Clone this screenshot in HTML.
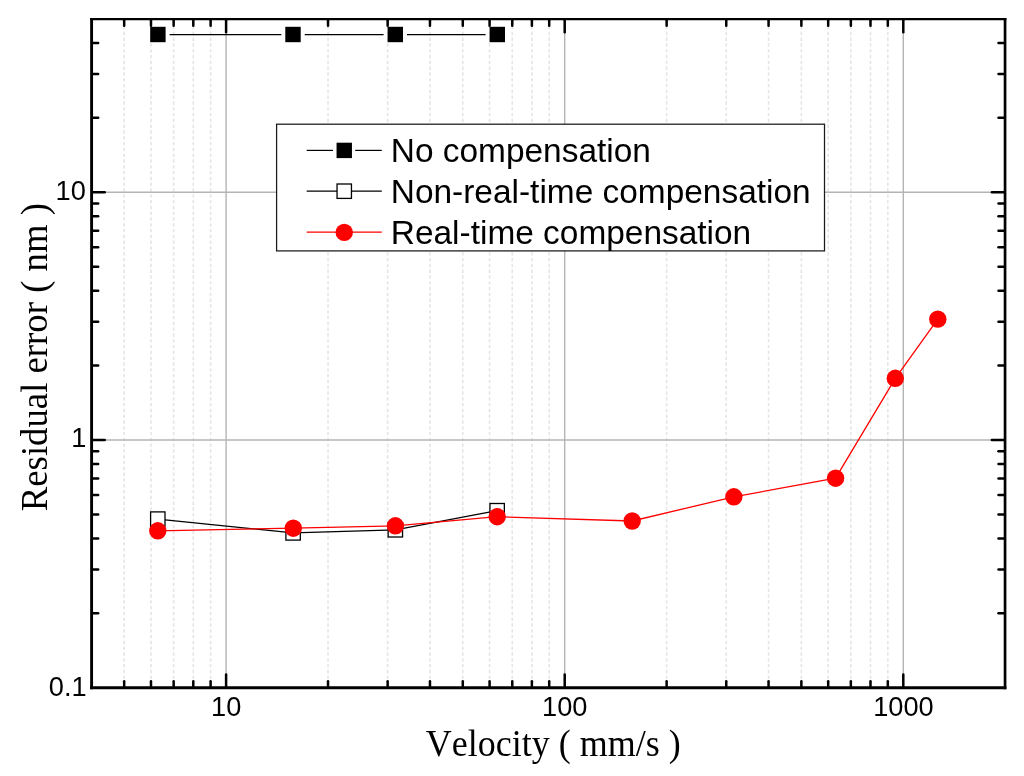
<!DOCTYPE html>
<html lang="en"><head><meta charset="utf-8"><title>Residual error vs velocity</title>
<style>html,body{margin:0;padding:0;background:#fff;}body{width:1024px;height:776px;overflow:hidden}svg{display:block}</style>
</head><body>
<svg width="1024" height="776" viewBox="0 0 1024 776">
<rect x="0" y="0" width="1024" height="776" fill="#fff"/>
<g stroke="#e5e5e5" stroke-width="1.6" stroke-dasharray="3.4 2.4" fill="none">
<line x1="124.17" y1="20.15" x2="124.17" y2="687.75"/>
<line x1="150.98" y1="20.15" x2="150.98" y2="687.75"/>
<line x1="173.65" y1="20.15" x2="173.65" y2="687.75"/>
<line x1="193.29" y1="20.15" x2="193.29" y2="687.75"/>
<line x1="210.61" y1="20.15" x2="210.61" y2="687.75"/>
<line x1="328.03" y1="20.15" x2="328.03" y2="687.75"/>
<line x1="387.65" y1="20.15" x2="387.65" y2="687.75"/>
<line x1="429.96" y1="20.15" x2="429.96" y2="687.75"/>
<line x1="462.77" y1="20.15" x2="462.77" y2="687.75"/>
<line x1="489.58" y1="20.15" x2="489.58" y2="687.75"/>
<line x1="512.25" y1="20.15" x2="512.25" y2="687.75"/>
<line x1="531.89" y1="20.15" x2="531.89" y2="687.75"/>
<line x1="549.21" y1="20.15" x2="549.21" y2="687.75"/>
<line x1="666.63" y1="20.15" x2="666.63" y2="687.75"/>
<line x1="726.25" y1="20.15" x2="726.25" y2="687.75"/>
<line x1="768.56" y1="20.15" x2="768.56" y2="687.75"/>
<line x1="801.37" y1="20.15" x2="801.37" y2="687.75"/>
<line x1="828.18" y1="20.15" x2="828.18" y2="687.75"/>
<line x1="850.85" y1="20.15" x2="850.85" y2="687.75"/>
<line x1="870.49" y1="20.15" x2="870.49" y2="687.75"/>
<line x1="887.81" y1="20.15" x2="887.81" y2="687.75"/>
</g>
<g stroke="#b4b4b4" stroke-width="1.4" fill="none">
<line x1="226.10" y1="19.15" x2="226.10" y2="687.75"/>
<line x1="564.70" y1="19.15" x2="564.70" y2="687.75"/>
<line x1="903.30" y1="19.15" x2="903.30" y2="687.75"/>
<line x1="91.60" y1="192.25" x2="1005.05" y2="192.25"/>
<line x1="91.60" y1="440.00" x2="1005.05" y2="440.00"/>
</g>
<g stroke="#000" stroke-width="2.5" stroke-linecap="round" fill="none">
<line x1="226.10" y1="686.75" x2="226.10" y2="674.60"/>
<line x1="226.10" y1="20.15" x2="226.10" y2="32.30"/>
<line x1="564.70" y1="686.75" x2="564.70" y2="674.60"/>
<line x1="564.70" y1="20.15" x2="564.70" y2="32.30"/>
<line x1="903.30" y1="686.75" x2="903.30" y2="674.60"/>
<line x1="903.30" y1="20.15" x2="903.30" y2="32.30"/>
<line x1="124.17" y1="686.75" x2="124.17" y2="681.20"/>
<line x1="124.17" y1="20.15" x2="124.17" y2="25.70"/>
<line x1="150.98" y1="686.75" x2="150.98" y2="681.20"/>
<line x1="150.98" y1="20.15" x2="150.98" y2="25.70"/>
<line x1="173.65" y1="686.75" x2="173.65" y2="681.20"/>
<line x1="173.65" y1="20.15" x2="173.65" y2="25.70"/>
<line x1="193.29" y1="686.75" x2="193.29" y2="681.20"/>
<line x1="193.29" y1="20.15" x2="193.29" y2="25.70"/>
<line x1="210.61" y1="686.75" x2="210.61" y2="681.20"/>
<line x1="210.61" y1="20.15" x2="210.61" y2="25.70"/>
<line x1="328.03" y1="686.75" x2="328.03" y2="681.20"/>
<line x1="328.03" y1="20.15" x2="328.03" y2="25.70"/>
<line x1="387.65" y1="686.75" x2="387.65" y2="681.20"/>
<line x1="387.65" y1="20.15" x2="387.65" y2="25.70"/>
<line x1="429.96" y1="686.75" x2="429.96" y2="681.20"/>
<line x1="429.96" y1="20.15" x2="429.96" y2="25.70"/>
<line x1="462.77" y1="686.75" x2="462.77" y2="681.20"/>
<line x1="462.77" y1="20.15" x2="462.77" y2="25.70"/>
<line x1="489.58" y1="686.75" x2="489.58" y2="681.20"/>
<line x1="489.58" y1="20.15" x2="489.58" y2="25.70"/>
<line x1="512.25" y1="686.75" x2="512.25" y2="681.20"/>
<line x1="512.25" y1="20.15" x2="512.25" y2="25.70"/>
<line x1="531.89" y1="686.75" x2="531.89" y2="681.20"/>
<line x1="531.89" y1="20.15" x2="531.89" y2="25.70"/>
<line x1="549.21" y1="686.75" x2="549.21" y2="681.20"/>
<line x1="549.21" y1="20.15" x2="549.21" y2="25.70"/>
<line x1="666.63" y1="686.75" x2="666.63" y2="681.20"/>
<line x1="666.63" y1="20.15" x2="666.63" y2="25.70"/>
<line x1="726.25" y1="686.75" x2="726.25" y2="681.20"/>
<line x1="726.25" y1="20.15" x2="726.25" y2="25.70"/>
<line x1="768.56" y1="686.75" x2="768.56" y2="681.20"/>
<line x1="768.56" y1="20.15" x2="768.56" y2="25.70"/>
<line x1="801.37" y1="686.75" x2="801.37" y2="681.20"/>
<line x1="801.37" y1="20.15" x2="801.37" y2="25.70"/>
<line x1="828.18" y1="686.75" x2="828.18" y2="681.20"/>
<line x1="828.18" y1="20.15" x2="828.18" y2="25.70"/>
<line x1="850.85" y1="686.75" x2="850.85" y2="681.20"/>
<line x1="850.85" y1="20.15" x2="850.85" y2="25.70"/>
<line x1="870.49" y1="686.75" x2="870.49" y2="681.20"/>
<line x1="870.49" y1="20.15" x2="870.49" y2="25.70"/>
<line x1="887.81" y1="686.75" x2="887.81" y2="681.20"/>
<line x1="887.81" y1="20.15" x2="887.81" y2="25.70"/>
<line x1="92.60" y1="192.25" x2="104.75" y2="192.25"/>
<line x1="1004.05" y1="192.25" x2="991.90" y2="192.25"/>
<line x1="92.60" y1="440.00" x2="104.75" y2="440.00"/>
<line x1="1004.05" y1="440.00" x2="991.90" y2="440.00"/>
<line x1="92.60" y1="613.17" x2="98.15" y2="613.17"/>
<line x1="1004.05" y1="613.17" x2="998.50" y2="613.17"/>
<line x1="92.60" y1="569.54" x2="98.15" y2="569.54"/>
<line x1="1004.05" y1="569.54" x2="998.50" y2="569.54"/>
<line x1="92.60" y1="538.59" x2="98.15" y2="538.59"/>
<line x1="1004.05" y1="538.59" x2="998.50" y2="538.59"/>
<line x1="92.60" y1="514.58" x2="98.15" y2="514.58"/>
<line x1="1004.05" y1="514.58" x2="998.50" y2="514.58"/>
<line x1="92.60" y1="494.96" x2="98.15" y2="494.96"/>
<line x1="1004.05" y1="494.96" x2="998.50" y2="494.96"/>
<line x1="92.60" y1="478.38" x2="98.15" y2="478.38"/>
<line x1="1004.05" y1="478.38" x2="998.50" y2="478.38"/>
<line x1="92.60" y1="464.01" x2="98.15" y2="464.01"/>
<line x1="1004.05" y1="464.01" x2="998.50" y2="464.01"/>
<line x1="92.60" y1="451.34" x2="98.15" y2="451.34"/>
<line x1="1004.05" y1="451.34" x2="998.50" y2="451.34"/>
<line x1="92.60" y1="365.42" x2="98.15" y2="365.42"/>
<line x1="1004.05" y1="365.42" x2="998.50" y2="365.42"/>
<line x1="92.60" y1="321.79" x2="98.15" y2="321.79"/>
<line x1="1004.05" y1="321.79" x2="998.50" y2="321.79"/>
<line x1="92.60" y1="290.84" x2="98.15" y2="290.84"/>
<line x1="1004.05" y1="290.84" x2="998.50" y2="290.84"/>
<line x1="92.60" y1="266.83" x2="98.15" y2="266.83"/>
<line x1="1004.05" y1="266.83" x2="998.50" y2="266.83"/>
<line x1="92.60" y1="247.21" x2="98.15" y2="247.21"/>
<line x1="1004.05" y1="247.21" x2="998.50" y2="247.21"/>
<line x1="92.60" y1="230.63" x2="98.15" y2="230.63"/>
<line x1="1004.05" y1="230.63" x2="998.50" y2="230.63"/>
<line x1="92.60" y1="216.26" x2="98.15" y2="216.26"/>
<line x1="1004.05" y1="216.26" x2="998.50" y2="216.26"/>
<line x1="92.60" y1="203.59" x2="98.15" y2="203.59"/>
<line x1="1004.05" y1="203.59" x2="998.50" y2="203.59"/>
<line x1="92.60" y1="117.67" x2="98.15" y2="117.67"/>
<line x1="1004.05" y1="117.67" x2="998.50" y2="117.67"/>
<line x1="92.60" y1="74.04" x2="98.15" y2="74.04"/>
<line x1="1004.05" y1="74.04" x2="998.50" y2="74.04"/>
<line x1="92.60" y1="43.09" x2="98.15" y2="43.09"/>
<line x1="1004.05" y1="43.09" x2="998.50" y2="43.09"/>
</g>
<g stroke="#000" fill="none">
<line x1="90.15" y1="19.15" x2="1006.40" y2="19.15" stroke-width="2.2"/>
<line x1="90.15" y1="687.75" x2="1006.40" y2="687.75" stroke-width="2.8"/>
<line x1="91.60" y1="18.05" x2="91.60" y2="689.15" stroke-width="2.9"/>
<line x1="1005.05" y1="18.05" x2="1005.05" y2="689.15" stroke-width="2.7"/>
</g>
<g stroke="#000" stroke-width="1.2" fill="none">
<line x1="169.60" y1="34.6" x2="281.30" y2="34.6"/>
<line x1="304.70" y1="34.6" x2="383.60" y2="34.6"/>
<line x1="407.00" y1="34.6" x2="485.60" y2="34.6"/>
</g>
<rect x="150.20" y="26.80" width="15.4" height="15.4" fill="#000"/>
<rect x="285.30" y="26.80" width="15.4" height="15.4" fill="#000"/>
<rect x="387.60" y="26.80" width="15.4" height="15.4" fill="#000"/>
<rect x="489.60" y="26.80" width="15.4" height="15.4" fill="#000"/>
<polyline fill="none" stroke="#000" stroke-width="1.25" points="157.8,519.1 293.1,532.9 395.35,529.8 497.15,510.7"/>
<rect x="150.60" y="511.90" width="14.4" height="14.4" fill="#fff" stroke="#000" stroke-width="1.3"/>
<rect x="285.90" y="525.70" width="14.4" height="14.4" fill="#fff" stroke="#000" stroke-width="1.3"/>
<rect x="388.15" y="522.60" width="14.4" height="14.4" fill="#fff" stroke="#000" stroke-width="1.3"/>
<rect x="489.95" y="503.50" width="14.4" height="14.4" fill="#fff" stroke="#000" stroke-width="1.3"/>
<polyline fill="none" stroke="#ff0000" stroke-width="1.3" points="157.8,530.8 293.3,528.2 395.4,525.8 497.2,516.7 632.2,521.0 733.85,496.8 835.6,478.2 895.3,378.3 937.8,319.15"/>
<circle cx="157.8" cy="530.8" r="8.7" fill="#ff0000"/>
<circle cx="293.3" cy="528.2" r="8.7" fill="#ff0000"/>
<circle cx="395.4" cy="525.8" r="8.7" fill="#ff0000"/>
<circle cx="497.2" cy="516.7" r="8.7" fill="#ff0000"/>
<circle cx="632.2" cy="521.0" r="8.7" fill="#ff0000"/>
<circle cx="733.85" cy="496.8" r="8.7" fill="#ff0000"/>
<circle cx="835.6" cy="478.2" r="8.7" fill="#ff0000"/>
<circle cx="895.3" cy="378.3" r="8.7" fill="#ff0000"/>
<circle cx="937.8" cy="319.15" r="8.7" fill="#ff0000"/>
<rect x="276.6" y="124.2" width="547.9" height="126.7" fill="#fff" stroke="#1a1a1a" stroke-width="1.25"/>
<g stroke="#000" stroke-width="1.2"><line x1="306.7" y1="150.4" x2="333.0" y2="150.4"/><line x1="355.2" y1="150.4" x2="381.8" y2="150.4"/>
<line x1="306.7" y1="191.2" x2="381.8" y2="191.2"/></g>
<line x1="306.7" y1="232.2" x2="381.8" y2="232.2" stroke="#ff0000" stroke-width="1.3"/>
<rect x="336.55" y="142.70" width="15.4" height="15.4" fill="#000"/>
<rect x="337.05" y="184.00" width="14.4" height="14.4" fill="#fff" stroke="#000" stroke-width="1.3"/>
<circle cx="344.25" cy="232.39999999999998" r="8.7" fill="#ff0000"/>
<g font-family="'Liberation Sans', Arial, sans-serif" font-size="33.44" fill="#000">
<text transform="translate(390.8,161.5) scale(1.0,1)" x="0" y="0">No compensation</text>
<text transform="translate(390.8,202.5) scale(1.0,1)" x="0" y="0">Non-real-time compensation</text>
<text transform="translate(390.8,243.8) scale(1.0,1)" x="0" y="0">Real-time compensation</text>
</g>
<g font-family="'Liberation Sans', Arial, sans-serif" font-size="27.2" fill="#000">
<text transform="translate(226.20,716.2) scale(1.0,1)" text-anchor="middle">10</text>
<text transform="translate(564.80,716.2) scale(1.0,1)" text-anchor="middle">100</text>
<text transform="translate(903.40,716.2) scale(1.0,1)" text-anchor="middle">1000</text>
<text transform="translate(85.8,200.0) scale(1.0,1)" text-anchor="end">10</text>
<text transform="translate(86.4,447.1) scale(1.0,1)" text-anchor="end">1</text>
<text transform="translate(86.6,696.1) scale(1.0,1)" text-anchor="end">0.1</text>
</g>
<g font-family="'Liberation Serif', 'Times New Roman', serif" fill="#000" style="font-kerning:none">
<text font-size="36" transform="translate(425.8,755.6) scale(1,1.04)">Velocity ( mm/s )</text>
<text font-size="36.75" transform="translate(47.1,511.2) rotate(-90) scale(1,1.03)">Residual error ( nm )</text>
</g>
</svg>
</body></html>
